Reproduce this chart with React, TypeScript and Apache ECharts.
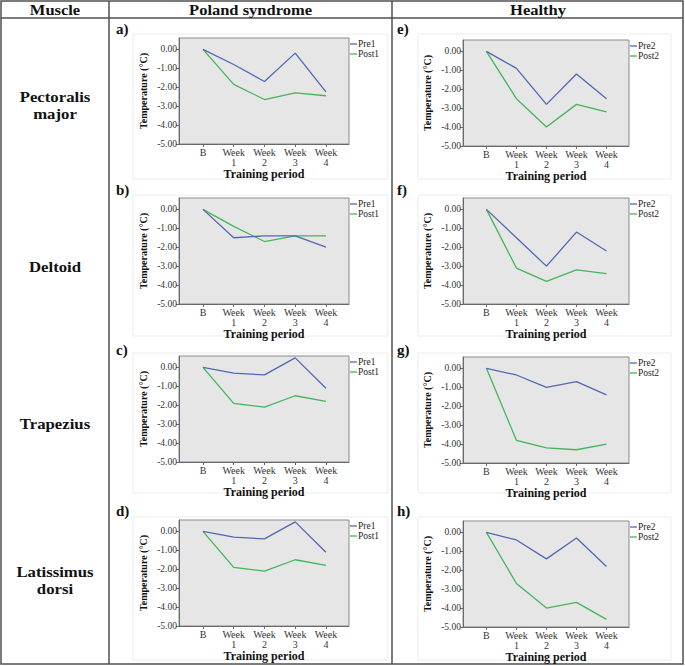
import React, { useEffect, useRef } from "react";
import * as echarts from "echarts";

// Training-period categories and axis ticks
const categories = ["B", "Week\n1", "Week\n2", "Week\n3", "Week\n4"];
const yTicks = [0, -1, -2, -3, -4, -5];
const columnHeaders = ["Muscle", "Poland syndrome", "Healthy"];
const muscles = ["Pectoralis\nmajor", "Deltoid", "Trapezius", "Latissimus\ndorsi"];

// Temperature change (°C) — Poland syndrome group
const pectoralisPre1 = [0, -0.8, -1.7, -0.2, -2.25];
const pectoralisPost1 = [0, -1.85, -2.65, -2.3, -2.45];
const deltoidPre1 = [0, -1.5, -1.4, -1.4, -2.0];
const deltoidPost1 = [0, -0.9, -1.7, -1.4, -1.4];
const trapeziusPre1 = [0, -0.3, -0.4, 0.5, -1.1];
const trapeziusPost1 = [0, -1.9, -2.1, -1.5, -1.8];
const latissimusPre1 = [0, -0.3, -0.4, 0.5, -1.1];
const latissimusPost1 = [0, -1.9, -2.1, -1.5, -1.8];

// Temperature change (°C) — healthy group
const pectoralisPre2 = [0, -0.9, -2.8, -1.2, -2.5];
const pectoralisPost2 = [0, -2.5, -4.0, -2.8, -3.2];
const deltoidPre2 = [0, -1.5, -3.0, -1.2, -2.2];
const deltoidPost2 = [0, -3.1, -3.8, -3.2, -3.4];
const trapeziusPre2 = [0, -0.35, -1.0, -0.7, -1.4];
const trapeziusPost2 = [0, -3.8, -4.2, -4.3, -4.0];
const latissimusPre2 = [0, -0.4, -1.4, -0.3, -1.8];
const latissimusPost2 = [0, -2.7, -4.0, -3.7, -4.6];

const SERIF = "'Liberation Serif', 'Times New Roman', serif";
const PRE_COLOR = "#5068b4";
const POST_COLOR = "#43b65a";

type Panel = {
  letter: string;
  col: number;
  row: number;
  pre: number[];
  post: number[];
  preName: string;
  postName: string;
};

const panels: Panel[] = [
  { letter: "a)", col: 0, row: 0, pre: pectoralisPre1, post: pectoralisPost1, preName: "Pre1", postName: "Post1" },
  { letter: "b)", col: 0, row: 1, pre: deltoidPre1, post: deltoidPost1, preName: "Pre1", postName: "Post1" },
  { letter: "c)", col: 0, row: 2, pre: trapeziusPre1, post: trapeziusPost1, preName: "Pre1", postName: "Post1" },
  { letter: "d)", col: 0, row: 3, pre: latissimusPre1, post: latissimusPost1, preName: "Pre1", postName: "Post1" },
  { letter: "e)", col: 1, row: 0, pre: pectoralisPre2, post: pectoralisPost2, preName: "Pre2", postName: "Post2" },
  { letter: "f)", col: 1, row: 1, pre: deltoidPre2, post: deltoidPost2, preName: "Pre2", postName: "Post2" },
  { letter: "g)", col: 1, row: 2, pre: trapeziusPre2, post: trapeziusPost2, preName: "Pre2", postName: "Post2" },
  { letter: "h)", col: 1, row: 3, pre: latissimusPre2, post: latissimusPost2, preName: "Pre2", postName: "Post2" },
];

// Layout of the table and of each plot area
const W = 685;
const H = 666;
const colX = [1, 109, 392, 684];
const headerBottom = 18;
const plotLeft = [179, 463];
const plotWidth = [170, 166];
const plotTop = [
  [38, 198, 356, 520],
  [40, 198, 357, 521],
];
const plotHeight = 106;
const letterX = [116, 397];
const letterY = [29, 190, 350, 511];
const muscleY = [105, 267, 424, 580];
const panelBoxX = [[133, 388], [418, 671]];
const panelBoxY = [[34, 179], [195, 336], [353, 493], [517, 660]];

function buildOption() {
  const grid: any[] = [];
  const xAxis: any[] = [];
  const yAxis: any[] = [];
  const series: any[] = [];
  const legend: any[] = [];
  const graphic: any[] = [];

  panels.forEach((p, i) => {
    const left = plotLeft[p.col];
    const top = plotTop[p.col][p.row];
    const width = plotWidth[p.col];
    grid.push({
      left,
      top,
      width,
      height: plotHeight,
      show: true,
      backgroundColor: "#e6e6e6",
      borderColor: "#8a8a8a",
      borderWidth: 1,
      containLabel: false,
    });
    xAxis.push({
      type: "value",
      gridIndex: i,
      min: -0.78,
      max: 4.75,
      name: "Training period",
      nameLocation: "middle",
      nameGap: 21,
      nameTextStyle: { fontFamily: SERIF, fontWeight: "bold", fontSize: 12, color: "#111" },
      axisLine: { show: true, onZero: false, lineStyle: { color: "#6a6a6a", width: 1 } },
      axisTick: {
        show: true,
        inside: false,
        length: 3,
        customValues: [0, 1, 2, 3, 4],
        lineStyle: { color: "#6a6a6a" },
      },
      axisLabel: {
        customValues: [0, 1, 2, 3, 4],
        formatter: (v: number) => categories[Math.round(v)] ?? "",
        fontFamily: SERIF,
        fontSize: 10,
        lineHeight: 10,
        color: "#333",
        margin: 3,
      },
      splitLine: { show: false },
    });
    yAxis.push({
      type: "value",
      gridIndex: i,
      min: -5,
      max: 0.6,
      name: "Temperature (°C)",
      nameLocation: "middle",
      nameGap: 31,
      nameTextStyle: { fontFamily: SERIF, fontWeight: "bold", fontSize: 10, color: "#111" },
      axisLine: { show: true, onZero: false, lineStyle: { color: "#6a6a6a", width: 1 } },
      axisTick: {
        show: true,
        inside: false,
        length: 3,
        customValues: yTicks,
        lineStyle: { color: "#6a6a6a" },
      },
      axisLabel: {
        customValues: yTicks,
        formatter: (v: number) => v.toFixed(2),
        fontFamily: SERIF,
        fontSize: 9.5,
        color: "#333",
        margin: 2,
      },
      splitLine: { show: false },
    });
    series.push({
      type: "line",
      name: p.preName,
      xAxisIndex: i,
      yAxisIndex: i,
      data: p.pre.map((v, k) => [k, v]),
      symbol: "none",
      lineStyle: { color: PRE_COLOR, width: 1.3 },
      itemStyle: { color: PRE_COLOR },
      z: 3,
    });
    series.push({
      type: "line",
      name: p.postName,
      xAxisIndex: i,
      yAxisIndex: i,
      data: p.post.map((v, k) => [k, v]),
      symbol: "none",
      lineStyle: { color: POST_COLOR, width: 1.3 },
      itemStyle: { color: POST_COLOR },
      z: 2,
    });
    legend.push({
      orient: "vertical",
      left: left + width + 1,
      top: top + 1,
      padding: 0,
      itemGap: 0,
      itemWidth: 7,
      itemHeight: 1.3,
      icon: "rect",
      data: [p.preName, p.postName],
      textStyle: { fontFamily: SERIF, fontSize: 9.5, color: "#222", padding: [0, 0, 0, -4], lineHeight: 10 },
    });

    // faint outline of each chart panel
    graphic.push({
      type: "rect",
      shape: {
        x: panelBoxX[p.col][0],
        y: panelBoxY[p.row][0],
        width: panelBoxX[p.col][1] - panelBoxX[p.col][0],
        height: panelBoxY[p.row][1] - panelBoxY[p.row][0],
      },
      style: { fill: "none", stroke: "#ececec", lineWidth: 1 },
      silent: true,
      z: -10,
    });
    graphic.push({
      type: "text",
      x: letterX[p.col],
      y: letterY[p.row],
      style: {
        text: p.letter,
        font: `bold 15px ${SERIF}`,
        fill: "#111",
        verticalAlign: "middle",
      },
    });
  });

  // table frame
  const lineStyle = { stroke: "#505050", lineWidth: 1.5 };
  graphic.push({
    type: "rect",
    shape: { x: 1, y: 1, width: W - 3, height: H - 3 },
    style: { fill: "none", ...lineStyle },
    silent: true,
  });
  graphic.push({
    type: "line",
    shape: { x1: 1, y1: headerBottom, x2: W - 2, y2: headerBottom },
    style: lineStyle,
    silent: true,
  });
  [colX[1], colX[2]].forEach((x) => {
    graphic.push({
      type: "line",
      shape: { x1: x, y1: 1, x2: x, y2: H - 2 },
      style: lineStyle,
      silent: true,
    });
  });

  columnHeaders.forEach((h, i) => {
    graphic.push({
      type: "text",
      x: (colX[i] + colX[i + 1]) / 2,
      y: 10,
      scaleX: 1.1,
      style: {
        text: h,
        font: `bold 15px ${SERIF}`,
        fill: "#111",
        align: "center",
        verticalAlign: "middle",
      },
    });
  });

  muscles.forEach((m, i) => {
    graphic.push({
      type: "text",
      x: (colX[0] + colX[1]) / 2,
      y: muscleY[i],
      scaleX: 1.08,
      style: {
        text: m,
        font: `bold 15.5px ${SERIF}`,
        lineHeight: 17,
        fill: "#111",
        align: "center",
        verticalAlign: "middle",
      },
    });
  });

  return {
    animation: false,
    backgroundColor: "#ffffff",
    grid,
    xAxis,
    yAxis,
    series,
    legend,
    graphic,
  };
}

export default function App() {
  const ref = useRef<HTMLDivElement>(null);
  useEffect(() => {
    if (!ref.current) return;
    const chart = echarts.init(ref.current, undefined, { renderer: "svg" });
    chart.setOption(buildOption());
    return () => chart.dispose();
  }, []);
  return (
    <div
      ref={ref}
      style={{ position: "absolute", left: 0, top: 0, width: W, height: H, background: "#fff" }}
    />
  );
}
